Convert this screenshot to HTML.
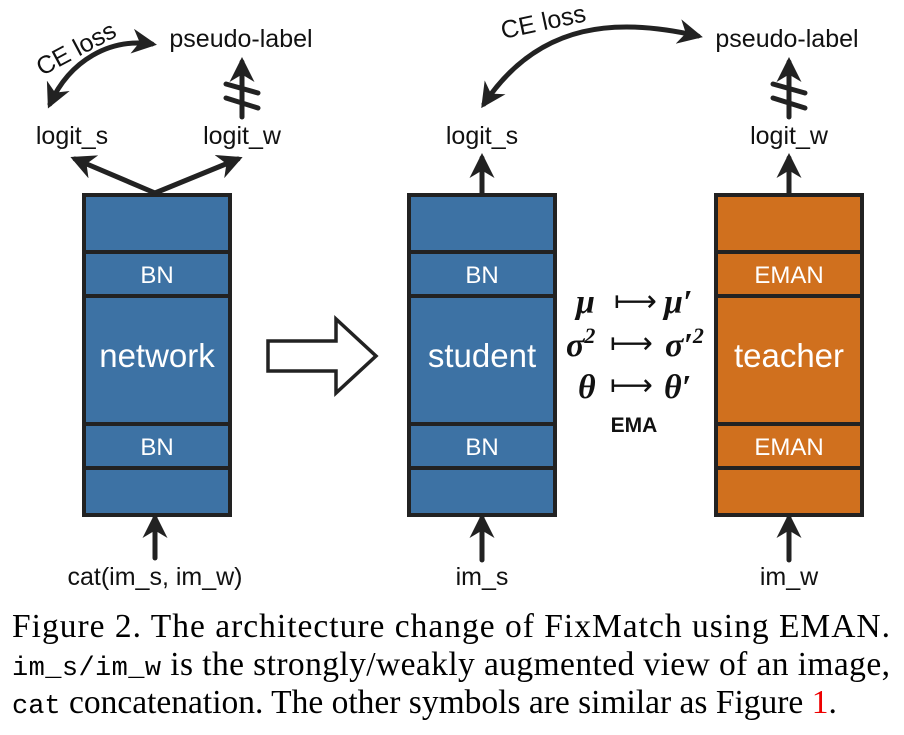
<!DOCTYPE html>
<html><head><meta charset="utf-8"><style>
html,body{margin:0;padding:0;background:#fff}
svg{display:block}
.s{font-family:"Liberation Sans",sans-serif}
.t{font-family:"Liberation Serif",serif;font-size:33.5px;fill:#000}
.m{font-family:"Liberation Mono",monospace}
</style></head><body>
<svg width="904" height="735" viewBox="0 0 904 735" xmlns="http://www.w3.org/2000/svg">
<defs>
<marker id="ah" viewBox="0 0 10 10" refX="8" refY="5" markerWidth="5" markerHeight="5" orient="auto-start-reverse" markerUnits="strokeWidth">
<path d="M0,0 L10,5 L0,10 L3,5 z" fill="#222"/></marker>
</defs>
<g stroke="#222" stroke-width="4">
<rect x="84" y="195" width="146" height="320" fill="#3d72a4"/>
<line x1="84" y1="252" x2="230" y2="252"/><line x1="84" y1="296" x2="230" y2="296"/>
<line x1="84" y1="424" x2="230" y2="424"/><line x1="84" y1="468" x2="230" y2="468"/>
<rect x="409" y="195" width="146" height="320" fill="#3d72a4"/>
<line x1="409" y1="252" x2="555" y2="252"/><line x1="409" y1="296" x2="555" y2="296"/>
<line x1="409" y1="424" x2="555" y2="424"/><line x1="409" y1="468" x2="555" y2="468"/>
<rect x="716" y="195" width="146" height="320" fill="#d0701e"/>
<line x1="716" y1="252" x2="862" y2="252"/><line x1="716" y1="296" x2="862" y2="296"/>
<line x1="716" y1="424" x2="862" y2="424"/><line x1="716" y1="468" x2="862" y2="468"/>
</g>
<g fill="#fff" class="s" text-anchor="middle">
<text x="157" y="283" font-size="24">BN</text>
<text x="157" y="455" font-size="24">BN</text>
<text x="157" y="367" font-size="33">network</text>
<text x="482" y="283" font-size="24">BN</text>
<text x="482" y="455" font-size="24">BN</text>
<text x="482" y="367" font-size="33">student</text>
<text x="789" y="283" font-size="24">EMAN</text>
<text x="789" y="455" font-size="24">EMAN</text>
<text x="789" y="367" font-size="33">teacher</text>
</g>
<g stroke="#222" stroke-width="5" fill="none" stroke-linecap="round">
<path d="M155,193 L75,159" marker-end="url(#ah)"/>
<path d="M155,193 L238,159" marker-end="url(#ah)"/>
<path d="M242,117 L242,62" marker-end="url(#ah)"/>
<line x1="226" y1="84" x2="258" y2="93"/><line x1="226" y1="98" x2="258" y2="108"/>
<path d="M152,44 C110,38 70,60 50,104" marker-end="url(#ah)" marker-start="url(#ah)"/>
<path d="M155,558 L155,518" marker-end="url(#ah)"/>
<path d="M482,560 L482,518" marker-end="url(#ah)"/>
<path d="M789,560 L789,518" marker-end="url(#ah)"/>
<path d="M482,193 L482,158" marker-end="url(#ah)"/>
<path d="M789,193 L789,158" marker-end="url(#ah)"/>
<path d="M789,117 L789,62" marker-end="url(#ah)"/>
<line x1="773" y1="84" x2="805" y2="93"/><line x1="773" y1="98" x2="805" y2="108"/>
<path d="M484,104 C540,20 620,18 698,36" marker-end="url(#ah)" marker-start="url(#ah)"/>
</g>
<path d="M268,341 L336,341 L336,319 L376,356 L336,393 L336,371 L268,371 Z" fill="#fff" stroke="#222" stroke-width="3.5"/>
<g class="s" font-size="25" fill="#111" text-anchor="middle">
<text x="72" y="144">logit_s</text>
<text x="242" y="144">logit_w</text>
<text x="482" y="144">logit_s</text>
<text x="789" y="144">logit_w</text>
<text x="241" y="47">pseudo-label</text>
<text x="787" y="47">pseudo-label</text>
<text x="155" y="585">cat(im_s, im_w)</text>
<text x="482" y="585">im_s</text>
<text x="789" y="585">im_w</text>
<text x="80" y="56" transform="rotate(-28 80 56)" font-size="25">CE loss</text>
<text x="545" y="30" transform="rotate(-12 545 30)" font-size="25">CE loss</text>
<text x="634" y="432" font-size="21" font-weight="bold">EMA</text>
</g>
<g font-family="Liberation Serif,serif" font-weight="bold" font-style="italic" font-size="34" fill="#111">
<text x="576" y="313">μ</text><text x="664" y="313">μ′</text>
<text x="566" y="356">σ<tspan font-size="22" dy="-13">2</tspan></text><text x="665" y="356">σ′<tspan font-size="22" dy="-13">2</tspan></text>
<text x="578" y="398">θ</text><text x="664" y="398">θ′</text>
</g>
<g font-family="DejaVu Sans,sans-serif" font-size="30" fill="#111">
<text x="614" y="311">⟼</text><text x="610" y="353">⟼</text><text x="610" y="395">⟼</text>
</g>
<text class="t" x="12" y="637" textLength="878" lengthAdjust="spacing">Figure 2. The architecture change of FixMatch using EMAN.</text>
<text class="t" x="12" y="675" textLength="878" lengthAdjust="spacing"><tspan class="m" font-size="27">im_s/im_w</tspan> is the strongly/weakly augmented view of an image,</text>
<text class="t" x="12" y="713"><tspan class="m" font-size="27">cat</tspan> concatenation. The other symbols are similar as Figure <tspan fill="#e00">1</tspan>.</text>
</svg>
</body></html>
